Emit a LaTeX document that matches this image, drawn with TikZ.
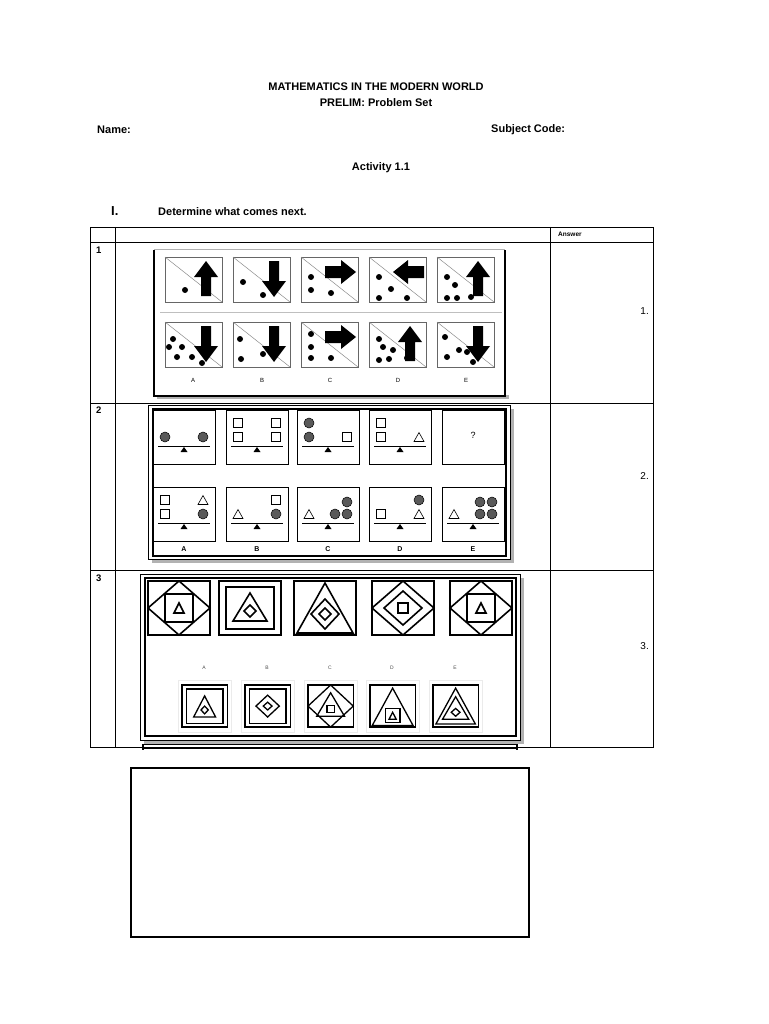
\documentclass[tikz,border=0pt]{standalone}
\usepackage{fontspec}
\setmainfont{Liberation Sans}
\begin{document}
\begin{tikzpicture}[x=1pt,y=-1pt,
  hdr/.style={font=\bfseries\fontsize{11}{13}\selectfont,inner sep=0pt},
  small/.style={font=\fontsize{6.5}{8}\selectfont,inner sep=0pt},
  tbl/.style={line width=0.8pt},
  pbox/.style={draw=black!60,line width=0.6pt},
  fig/.style={line width=1.6pt,line join=miter},
  bal/.style={fill=black!65,draw=black,line width=0.5pt},
  hol/.style={draw=black,line width=0.6pt,fill=white}]
\useasboundingbox (0,0) rectangle (768,1024);
\fill[white] (0,0) rectangle (768,1024);
% header
\node[hdr] (t1) at (376,87) {MATHEMATICS IN THE MODERN WORLD};
\node[hdr] (t2) at (376,103) {PRELIM: Problem Set};
\node[hdr,anchor=west] (nm) at (97,130) {Name:};
\node[hdr,anchor=west] (sc) at (491,130) {Subject Code:};
\node[hdr] (act) at (381,168) {Activity 1.1};
\node[hdr,font=\bfseries\fontsize{13}{15}\selectfont,anchor=west] (ro) at (111,211) {I.};
\node[hdr,anchor=west] (det) at (158,212) {Determine what comes next.};
% table
\draw[tbl] (90,227) rectangle (653,747);
\draw[tbl] (90,242) -- (653,242) (90,403) -- (653,403) (90,570) -- (653,570);
\draw[tbl] (115,227) -- (115,747) (550,227) -- (550,747);
\node[small,font=\bfseries\fontsize{6.5}{8}\selectfont,anchor=west] (ans) at (558,234) {Answer};
\node[hdr,font=\bfseries\fontsize{9.5}{11}\selectfont,anchor=west] (n1) at (96,250) {1};
\node[hdr,font=\bfseries\fontsize{9.5}{11}\selectfont,anchor=west] (n2) at (96,410) {2};
\node[hdr,font=\bfseries\fontsize{9.5}{11}\selectfont,anchor=west] (n3) at (96,578) {3};
\node[hdr,font=\fontsize{10}{12}\selectfont,anchor=east] (a1) at (649,311) {1.};
\node[hdr,font=\fontsize{10}{12}\selectfont,anchor=east] (a2) at (649,476) {2.};
\node[hdr,font=\fontsize{10}{12}\selectfont,anchor=east] (a3) at (649,646) {3.};
% ---------- panel 1
\fill[black!30] (157,395) rectangle (509,399);
\draw[black!30,line width=0.6pt] (154,249) -- (505,249);
\draw[line width=2.6pt] (154,250) -- (154,396) -- (505,396) -- (505,250);
\draw[black!25,line width=0.8pt] (160,312) -- (502,312);
\newcommand{\pb}[3]{\begin{scope}[shift={(#1,#2)}]\draw[pbox](0,0) rectangle (57,45);\draw[black!45,line width=0.5pt](0,0)--(57,45);#3\end{scope}}
\newcommand{\ua}{\fill (36,39)--(36,20)--(29,20)--(41,4)--(53,20)--(46,20)--(46,39)--cycle;}
\newcommand{\da}{\fill (36,4)--(36,24)--(29,24)--(41,40)--(53,24)--(46,24)--(46,4)--cycle;}
\newcommand{\ra}{\fill (24,9)--(40,9)--(40,3)--(55,15)--(40,27)--(40,21)--(24,21)--cycle;}
\newcommand{\la}{\fill (55,9)--(39,9)--(39,3)--(24,15)--(39,27)--(39,21)--(55,21)--cycle;}
\newcommand{\dt}[1]{\foreach \p in {#1} \fill \p circle (3);}
\pb{165}{257}{\ua\dt{(20,33)}}
\pb{233}{257}{\da\dt{(10,25),(30,38)}}
\pb{301}{257}{\ra\dt{(10,20),(10,33),(30,36)}}
\pb{369}{257}{\la\dt{(10,20),(22,32),(10,41),(38,41)}}
\pb{437}{257}{\ua\dt{(10,20),(18,28),(10,41),(20,41),(34,40)}}
\pb{165}{322}{\da\dt{(8,17),(4,25),(17,25),(12,35),(27,35),(37,41)}}
\pb{233}{322}{\da\dt{(7,17),(8,37),(30,32)}}
\pb{301}{322}{\ra\dt{(10,12),(10,25),(10,36),(30,36)}}
\pb{369}{322}{\ua\dt{(10,17),(14,25),(24,28),(10,38),(20,37),(38,36)}}
\pb{437}{322}{\da\dt{(8,15),(22,28),(10,35),(30,30),(36,40)}}
\foreach \l/\x in {A/193,B/262,C/330,D/398,E/466}
  \node[small,font=\fontsize{6}{7}\selectfont] (l1\l) at (\x,380) {\l};
% ---------- panel 2
\fill[black!30] (152,559) rectangle (514,563);
\fill[black!30] (510,409) rectangle (514,563);
\draw[line width=0.6pt] (148,405) rectangle (510,559);
\draw[line width=1.2pt] (153,409) rectangle (506,556);
\newcommand{\bb}[3]{\begin{scope}[shift={(#1,#2)}]\draw[line width=0.9pt](0,0) rectangle (62,54);#3\end{scope}}
\newcommand{\bl}{\draw[line width=0.7pt](5,36)--(57,36);\fill (27.5,42)--(31,37)--(34.5,42)--cycle;}
\newcommand{\ci}[1]{\foreach \p in {#1} \draw[bal] \p circle (5);}
\newcommand{\sq}[1]{\foreach \p in {#1} \draw[hol] \p ++(-4.5,-4.5) rectangle ++(9,9);}
\newcommand{\tr}[1]{\foreach \p in {#1} \draw[hol] \p ++(-5,4.5) -- ++(5,-9) -- ++(5,9) -- cycle;}
\bb{153}{410}{\bl\ci{(12,27),(50,27)}}
\bb{226}{410}{\bl\sq{(12,13),(12,27),(50,13),(50,27)}}
\bb{297}{410}{\bl\ci{(12,13),(12,27)}\sq{(50,27)}}
\bb{369}{410}{\bl\sq{(12,13),(12,27)}\tr{(50,27)}}
\bb{442}{410}{\node[font=\fontsize{9}{10}\selectfont] (q) at (31,25) {?};}
\bb{153}{487}{\bl\sq{(12,13),(12,27)}\tr{(50,13)}\ci{(50,27)}}
\bb{226}{487}{\bl\tr{(12,27)}\sq{(50,13)}\ci{(50,27)}}
\bb{297}{487}{\bl\tr{(12,27)}\ci{(38,27),(50,27),(50,15)}}
\bb{369}{487}{\bl\sq{(12,27)}\ci{(50,13)}\tr{(50,27)}}
\bb{442}{487}{\bl\tr{(12,27)}\ci{(38,15),(50,15),(38,27),(50,27)}}
\foreach \l/\x in {A/184,B/257,C/328,D/400,E/473}
  \node[small,font=\bfseries\fontsize{7}{8}\selectfont] (l2\l) at (\x,549) {\l};
% ---------- panel 3
\fill[black!30] (144,740) rectangle (524,744);
\fill[black!30] (520,578) rectangle (524,744);
\draw[line width=0.6pt] (140,574) rectangle (520,740);
\draw[line width=1.2pt] (145,578) rectangle (516,736);
\draw[line width=0.6pt] (142,744) -- (518,744);
\draw[line width=2.4pt] (143,748) -- (517,748);
\draw[line width=2pt] (143,744) -- (143,750) (517,744) -- (517,750);
\newcommand{\fr}{\draw (0,0) rectangle (62,54);}
\newcommand{\dm}{\draw (31,0)--(62,27)--(31,54)--(0,27)--cycle;}
\newcommand{\fa}{\fr\dm\draw (17,13) rectangle (45,41);\draw (26,32)--(31,22)--(36,32)--cycle;}
\newcommand{\fb}{\fr\draw (7,6) rectangle (55,48);\draw (14,40)--(31,12)--(48,40)--cycle;\draw (31,24)--(37,30)--(31,36)--(25,30)--cycle;}
\newcommand{\fc}{\fr\draw (3,52)--(31,2)--(59,52)--cycle;\draw (31,18)--(45,33)--(31,48)--(17,33)--cycle;\draw (31,27)--(37,33)--(31,39)--(25,33)--cycle;}
\newcommand{\fd}{\fr\dm\draw (31,10)--(50,27)--(31,44)--(12,27)--cycle;\draw (26,22) rectangle (36,32);}
\newcommand{\fA}{\fr\draw (6,5) rectangle (56,49);\draw (16,41)--(31,14)--(46,41)--cycle;\draw (31,27)--(36,32)--(31,37)--(26,32)--cycle;}
\newcommand{\fB}{\fr\draw (6,5) rectangle (56,49);\draw (31,13)--(47,27)--(31,41)--(15,27)--cycle;\draw (31,22)--(37,27)--(31,32)--(25,27)--cycle;}
\newcommand{\fC}{\fr\dm\draw (12,40)--(31,10)--(50,40)--cycle;\draw (26,26) rectangle (36,35);}
\newcommand{\fD}{\fr\draw (3,52)--(31,4)--(59,52)--cycle;\draw (21,30) rectangle (41,48);\draw (26,44)--(31,35)--(36,44)--cycle;}
\newcommand{\fE}{\fr\draw (4,50)--(31,4)--(58,50)--cycle;\draw (13,44)--(31,15)--(49,44)--cycle;\draw (31,30)--(37,35)--(31,40)--(25,35)--cycle;}
\foreach \x/\m in {148/\fa,219/\fb,294/\fc,372/\fd,450/\fa}
  \begin{scope}[shift={(\x,581)},fig] \m \end{scope};
\foreach \x/\m/\l in {182/\fA/A,245/\fB/B,308/\fC/C,370/\fD/D,433/\fE/E}{
  \draw[black!8,line width=0.5pt] (\x-4,680) rectangle (\x+49,732);
  \begin{scope}[shift={(\x,685)},xscale=0.73,yscale=0.78,fig,line width=1.3pt] \m \end{scope}
  \node[small,font=\fontsize{5}{6}\selectfont,text=black!70] (l3\l) at (\x+22,668) {\l};}
% answer box
\draw[line width=2.2pt] (131,768) rectangle (529,937);
\end{tikzpicture}
\end{document}
